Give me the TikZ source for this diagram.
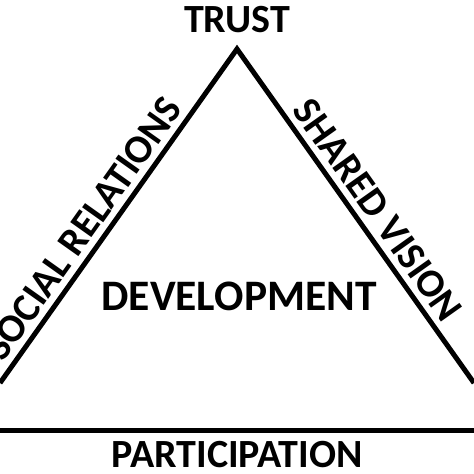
\documentclass[tikz,border=0pt]{standalone}
\usepackage{fontspec}
\setmainfont{Carlito}
\usetikzlibrary{positioning}

\tikzset{
  caption/.style={font=\bfseries\fontsize{40}{40}\selectfont, inner sep=0pt},
  big caption/.style={font=\bfseries\fontsize{43.5}{43.5}\selectfont, inner sep=0pt},
  thick edge/.style={line width=5pt, line join=miter}
}

\begin{document}
\begin{tikzpicture}[x=1pt,y=1pt]
  \useasboundingbox (0,0) rectangle (474,474);

  \coordinate (apex) at (237,425);
  \coordinate (left) at (0,91);
  \coordinate (right) at (474,91);
  \draw[thick edge] (left)
    -- node[pos=0.425, sloped, above=6pt, caption] (social) {SOCIAL RELATIONS} (apex)
    -- node[pos=0.52, sloped, above=6pt, caption] (shared) {SHARED VISION} (right);

  \node[caption, above=16pt of apex] (trust) {TRUST};
  \node[big caption] (development) at (239,178) {DEVELOPMENT};

  \coordinate (baseleft) at (0,43.5);
  \coordinate (baseright) at (474,43.5);
  \coordinate (basemid) at (237,43.5);
  \draw[line width=5pt] (baseleft) -- (baseright);
  \node[caption, below=11pt of basemid] (participation) {PARTICIPATION};
\end{tikzpicture}
\end{document}
